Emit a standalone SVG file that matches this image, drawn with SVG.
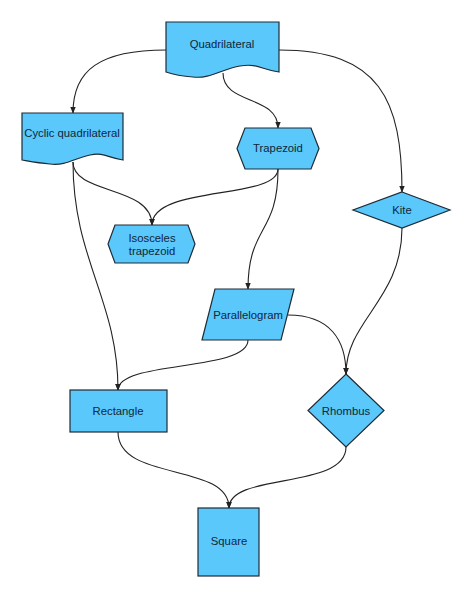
<svg xmlns="http://www.w3.org/2000/svg" width="474" height="589" viewBox="0 0 474 589">
<style>
.n{fill:#5ac8fa;stroke:#1e2b36;stroke-width:1.2}
.t{font-family:"Liberation Sans",Arial,sans-serif;font-size:11.3px;fill:#10263a;text-anchor:middle;dominant-baseline:central}
.e{fill:none;stroke:#222;stroke-width:1.1;marker-end:url(#a)}
</style>
<defs>
<marker id="a" viewBox="0 0 10 10" refX="9" refY="5" markerWidth="7" markerHeight="7" orient="auto" markerUnits="userSpaceOnUse">
<path d="M0,1 L10,5 L0,9 Z" fill="#222"/>
</marker>
</defs>
<rect width="474" height="589" fill="#fff"/>
<g id="edges">
<path class="e" d="M166,50 C100,50 73,70 73,113"/>
<path class="e" d="M223,73 C223,105 278,95 278,128"/>
<path class="e" d="M279,50 C380,50 402,100 402,192"/>
<path class="e" d="M73,162 C73,195 152,185 152,225"/>
<path class="e" d="M278,169 C278,200 152,185 152,225"/>
<path class="e" d="M278,169 C278,235 248,225 248,289"/>
<path class="e" d="M73,162 C73,260 118,300 118,390"/>
<path class="e" d="M248,340 C248,372 118,360 118,390"/>
<path class="e" d="M288,315 C330,315 346,340 346,374"/>
<path class="e" d="M402,228 C402,300 346,320 346,374"/>
<path class="e" d="M118,432 C118,482 229,462 229,508"/>
<path class="e" d="M346,447 C346,490 229,472 229,508"/>
</g>
<g id="quadrilateral">
<path class="n" d="M166,22 H279 V72 C262,70 258,63 240,66 C222,69 210,79 193,77 C180,76 172,74 166,72 Z"/>
<text class="t" x="222" y="44">Quadrilateral</text>
</g>
<g id="cyclic">
<path class="n" d="M22,113 H123 V160 C108,158 104,152 90,155 C75,158 66,166 50,164 C38,163 28,161 22,160 Z"/>
<text class="t" x="72" y="133">Cyclic quadrilateral</text>
</g>
<g id="trapezoid">
<path class="n" d="M245,128 H311 L319,148.5 L311,169 H245 L237,148.5 Z"/>
<text class="t" x="278" y="148">Trapezoid</text>
</g>
<g id="isosceles">
<path class="n" d="M115,225 H188 L195,244 L188,263 H115 L108,244 Z"/>
<text class="t" x="152" y="238">Isosceles</text>
<text class="t" x="152" y="251">trapezoid</text>
</g>
<g id="kite">
<path class="n" d="M402,192 L450,210 L402,228 L353,210 Z"/>
<text class="t" x="402" y="210">Kite</text>
</g>
<g id="parallelogram">
<path class="n" d="M215,289 H294 L281,340 H202 Z"/>
<text class="t" x="248" y="315">Parallelogram</text>
</g>
<g id="rectangle">
<rect class="n" x="70" y="390" width="97" height="42"/>
<text class="t" x="118" y="411">Rectangle</text>
</g>
<g id="rhombus">
<path class="n" d="M346,374 L384,410.5 L346,447 L308,410.5 Z"/>
<text class="t" x="346" y="411">Rhombus</text>
</g>
<g id="square">
<rect class="n" x="198" y="508" width="61" height="68"/>
<text class="t" x="229" y="541">Square</text>
</g>
</svg>
